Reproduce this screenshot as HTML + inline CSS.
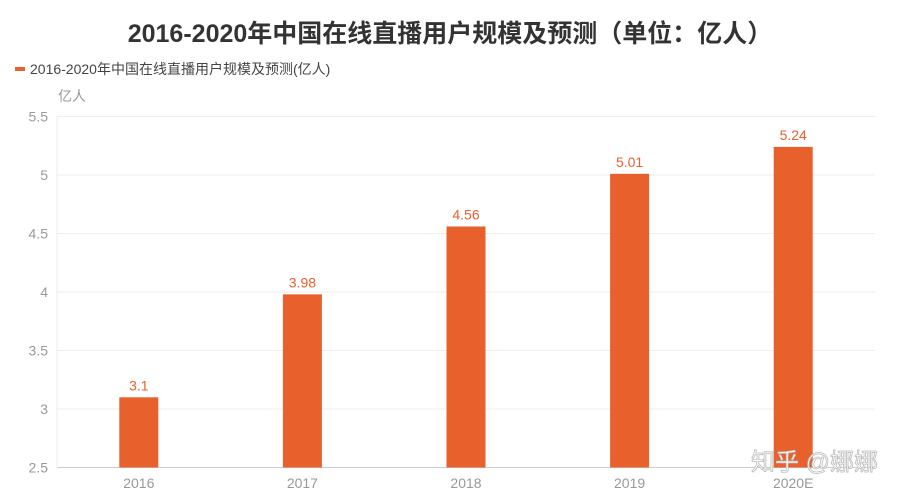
<!DOCTYPE html>
<html><head><meta charset="utf-8"><style>
html,body{margin:0;padding:0;background:#fff;width:900px;height:500px;overflow:hidden}
svg{display:block;font-family:"Liberation Sans","Noto Sans CJK SC",sans-serif}
</style></head><body>
<svg id="chart" width="900" height="500">
<text x="450" y="42" text-anchor="middle" font-size="25" font-weight="bold" fill="#333">2016-2020年中国在线直播用户规模及预测（单位：亿人）</text>
<g>
<rect x="15" y="67" width="10" height="4" fill="#e8602c"></rect>
<text x="30" y="74" font-size="14" fill="#444">2016-2020年中国在线直播用户规模及预测(亿人)</text>
</g>
<text x="58" y="101" font-size="14" fill="#999">亿人</text>
<g id="grid"></g><g id="bars"></g>
<text x="878" y="470" text-anchor="end" font-size="24" fill="#fff" stroke="#bbb" stroke-width="0.8">知乎 @娜娜</text>
</svg>
<script>
const categories=["2016","2017","2018","2019","2020E"];
const values=[3.1,3.98,4.56,5.01,5.24];
const valueLabels=["3.1","3.98","4.56","5.01","5.24"];
const yTicks=[2.5,3,3.5,4,4.5,5,5.5];
const yTickLabels=["2.5","3","3.5","4","4.5","5","5.5"];
const NS="http://www.w3.org/2000/svg";
const x0=57,x1=875,yTop=116.5,yBot=467.5,yMin=2.5,yMax=5.5;
function y(v){return yBot-(v-yMin)/(yMax-yMin)*(yBot-yTop);}
const band=(x1-x0)/categories.length;
function xc(i){return x0+band*(i+0.5);}
function mk(t,a,p,txt){const e=document.createElementNS(NS,t);for(const k in a)e.setAttribute(k,a[k]);if(txt!=null)e.textContent=txt;p.appendChild(e);return e;}
const g=document.getElementById('grid'),b=document.getElementById('bars');
yTicks.forEach((t,i)=>{
 const l=mk('line',{x1:x0,x2:x1,y1:y(t),y2:y(t),stroke:i==0?'#ccc':'#eee','stroke-width':1},g);
 
 
 const tx=mk('text',{x:48,y:y(t)+5,'text-anchor':'end','font-size':14,fill:'#999'},g,yTickLabels[i]);
 
 
});
const va=mk('line',{x1:x0,x2:x0,y1:yTop,y2:yBot,stroke:'#eee'},g);


categories.forEach((c,i)=>{
 const w=39;
 const r=mk('rect',{x:xc(i)-w/2,y:y(values[i]),width:w,height:yBot-y(values[i]),fill:'#e8602c'},b);
 
 
 const vl=mk('text',{x:xc(i),y:y(values[i])-7,'text-anchor':'middle','font-size':14,fill:'#e8602c'},b,valueLabels[i]);
 
 
 const xl=mk('text',{x:xc(i),y:488,'text-anchor':'middle','font-size':14,fill:'#999'},b,c);
 
 
});
</script>
</body></html>
